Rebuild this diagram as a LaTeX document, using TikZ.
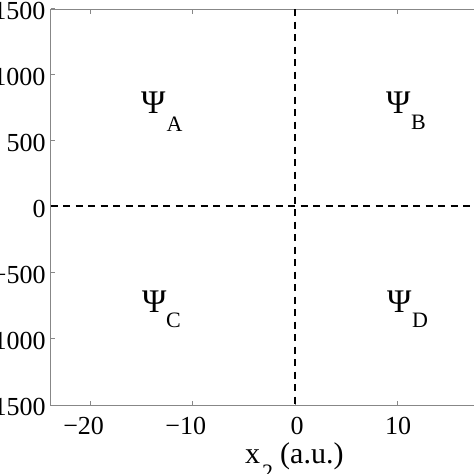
\documentclass[tikz,border=0pt]{standalone}
\usepackage{fontspec}
\setmainfont{Liberation Serif}
\definecolor{axisgray}{RGB}{135,135,135}
\begin{document}
\begin{tikzpicture}[x=1pt,y=-1pt,
  axisline/.style={draw=axisgray,line width=1pt},
  tickline/.style={draw=axisgray,line width=0.8pt},
  zeroline/.style={draw=black,line width=2pt,dash pattern=on 7pt off 5.5pt},
  ticklabel/.style={inner sep=0pt,font=\fontsize{26}{30}\selectfont},
  axislabel/.style={inner sep=0pt,anchor=base west,font=\fontsize{30}{34}\selectfont},
  psilabel/.style={inner sep=0pt,anchor=base west,font=\fontsize{33}{37}\selectfont},
  sublabel/.style={inner sep=0pt,anchor=base west,font=\fontsize{22}{26}\selectfont}]
\useasboundingbox (0,0) rectangle (474,474);
% frame
\coordinate (tl) at (50.7,9);
\coordinate (bl) at (50.7,405);
\coordinate (tr) at (480,9);
\coordinate (br) at (480,405);
\draw[axisline] (tr) -- (tl) -- (bl) -- (br);
% x ticks
\foreach \v/\n in {-20/m20,-10/m10,0/z,10/p10} {
  \coordinate (xb\n) at ({295+10.22*\v},405);
  \coordinate (xt\n) at ({295+10.22*\v},9);
  \draw[tickline] (xb\n) -- ++(0,-4.5);
  \draw[tickline] (xt\n) -- ++(0,4.5);
}
% y ticks
\foreach \v/\n in {1500/a,1000/b,500/c,0/d,-500/e,-1000/f,-1500/g} {
  \coordinate (yl\n) at (50.7,{206.5-0.1323*\v});
  \draw[tickline] (yl\n) -- ++(4.5,0);
}
% zero lines
\coordinate (hl) at (50.7,206);
\coordinate (hr) at (480,206);
\coordinate (vt) at (295,9);
\coordinate (vb) at (295,405);
\draw[zeroline] (hl) -- (hr);
\draw[zeroline] (vt) -- (vb);
% x tick labels
\node[ticklabel,anchor=north] (lxm20) at ([xshift=-7pt,yshift=-12pt]xbm20) {−20};
\node[ticklabel,anchor=north] (lxm10) at ([xshift=-7pt,yshift=-12pt]xbm10) {−10};
\node[ticklabel,anchor=north] (lxz) at ([xshift=2pt,yshift=-12pt]xbz) {0};
\node[ticklabel,anchor=north] (lxp10) at ([xshift=1pt,yshift=-12pt]xbp10) {10};
% y tick labels
\node[ticklabel,anchor=east] (lya) at ([xshift=-5pt,yshift=-2.5pt]yla) {1500};
\node[ticklabel,anchor=east] (lyb) at ([xshift=-5pt,yshift=-2.5pt]ylb) {1000};
\node[ticklabel,anchor=east] (lyc) at ([xshift=-5pt,yshift=-2.5pt]ylc) {500};
\node[ticklabel,anchor=east] (lyd) at ([xshift=-5pt,yshift=-2.5pt]yld) {0};
\node[ticklabel,anchor=east] (lye) at ([xshift=-5pt,yshift=-2.5pt]yle) {−500};
\node[ticklabel,anchor=east] (lyf) at ([xshift=-5pt,yshift=-2.5pt]ylf) {−1000};
\node[ticklabel,anchor=east] (lyg) at ([xshift=-5pt,yshift=-2.5pt]ylg) {−1500};
% axis label
\node[axislabel] (xlab) at (245,463) {x};
\node[sublabel] (xsub) at (262,479) {2};
\node[axislabel] (units) at (280,463) {(a.u.)};
% quadrant labels
\node[psilabel] (psiA) at (141,113) {Ψ};
\node[sublabel] (subA) at (166.5,131) {A};
\node[psilabel] (psiB) at (386,113) {Ψ};
\node[sublabel] (subB) at (411,129) {B};
\node[psilabel] (psiC) at (142,312) {Ψ};
\node[sublabel] (subC) at (166,327) {C};
\node[psilabel] (psiD) at (387,312) {Ψ};
\node[sublabel] (subD) at (412,327) {D};
\end{tikzpicture}
\end{document}
